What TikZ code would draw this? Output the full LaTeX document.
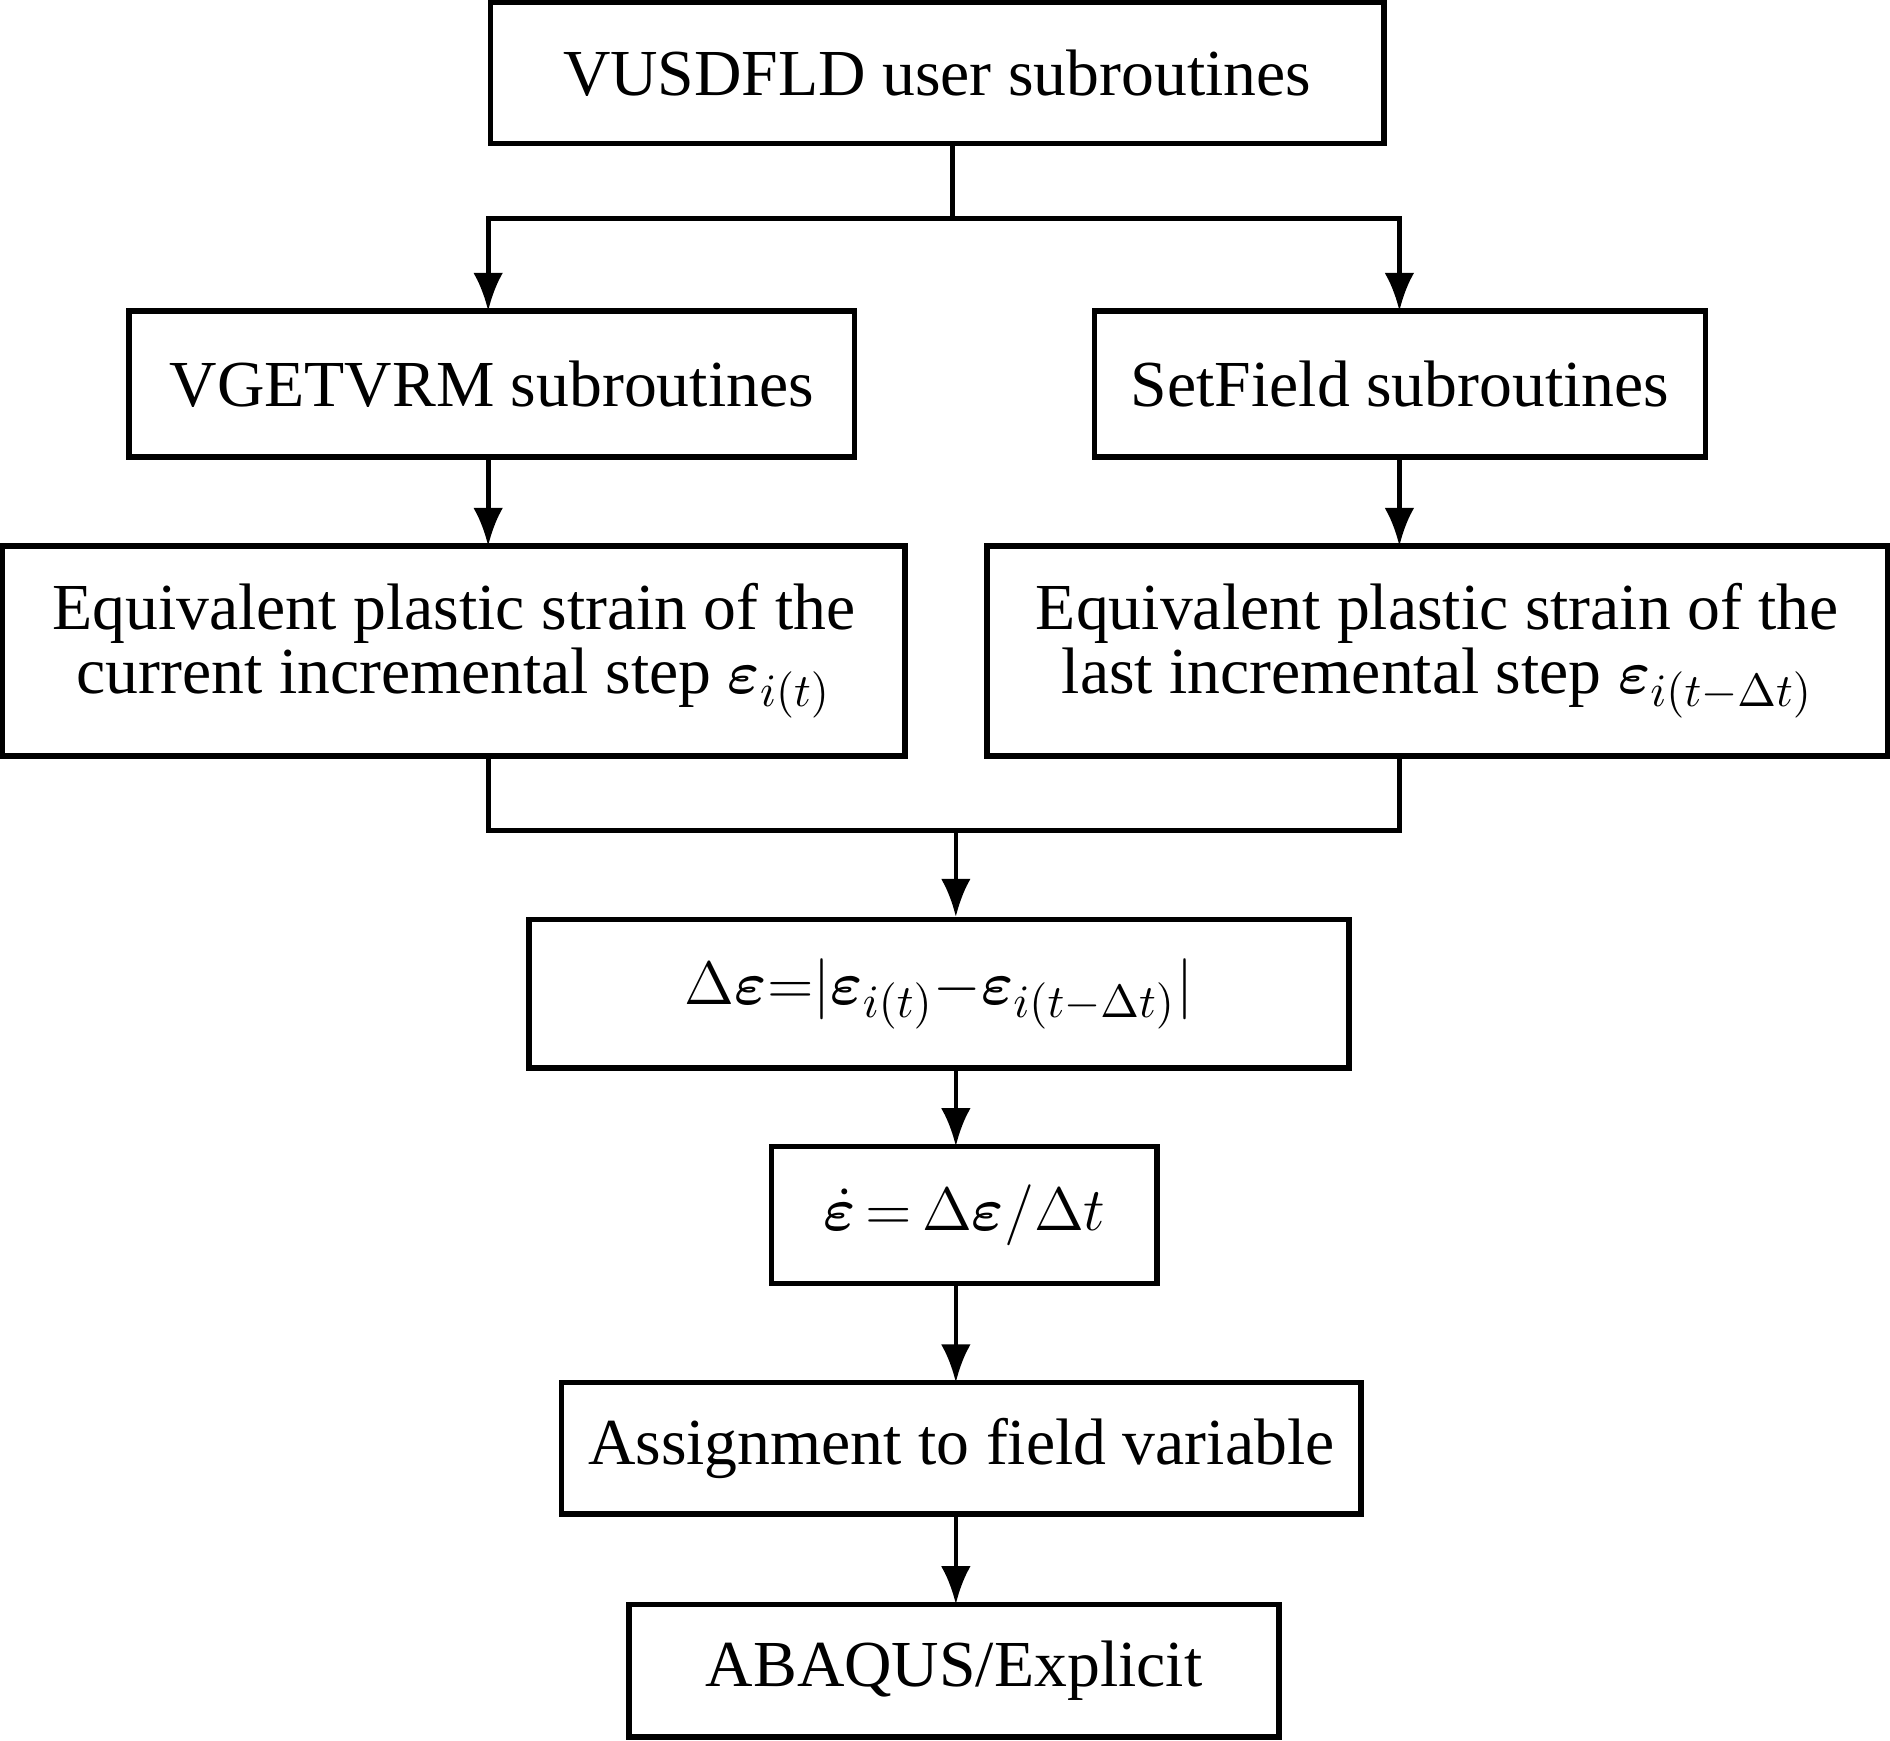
\documentclass[tikz,border=0pt]{standalone}
\usepackage{amsmath,bm}
\usepackage{fontspec}
\setmainfont{Liberation Serif}
\usetikzlibrary{arrows.meta}
\begin{document}
\begin{tikzpicture}[x=0.01cm,y=-0.01cm,
  box/.style={draw,line width=1.3pt,inner sep=0pt,align=center,font=\fontsize{15.5}{15}\selectfont},
  ln/.style={line width=1.1pt},
  ar/.style={ln,-{Latex[length=9pt,width=7pt]}}]
\useasboundingbox (0,0) rectangle (1568,1444);
\newcommand\bx[6]{\node[box,minimum width=#4*0.01cm,minimum height=#5*0.01cm] (#1) at (#2,#3) {#6};}
\bx{a}{777.5}{60.5}{741}{117}{VUSDFLD user subroutines}
\bx{b}{408}{318.5}{602}{121}{VGETVRM subroutines}
\bx{c}{1161.5}{318.5}{507}{121}{SetField subroutines}
\bx{d}{376.5}{540}{749}{174}{Equivalent plastic strain of the\\current incremental step $\bm{\varepsilon}_{i(t)}$}
\bx{e}{1192.5}{540}{747}{174}{Equivalent plastic strain of the\\last incremental step $\bm{\varepsilon}_{i(t-\Delta t)}$}
\bx{f}{779}{824.5}{680}{123}{$\Delta\bm{\varepsilon}{=}|\bm{\varepsilon}_{i(t)}{-}\bm{\varepsilon}_{i(t-\Delta t)}|$}
\bx{g}{800}{1008}{320}{114}{$\dot{\bm{\varepsilon}}\,{=}\,\Delta\bm{\varepsilon}/\Delta t$}
\bx{h}{797.5}{1201.5}{663}{109}{Assignment to field variable}
\bx{k}{791.5}{1386}{539}{110}{ABAQUS/Explicit}
\coordinate (j1) at (790,181);
\coordinate (j2) at (793,689);
\draw[ln] (a.south -| j1) -- (j1);
\draw[ar] (j1) -| (405,258);
\draw[ar] (j1) -| (1161,258);
\draw[ar] (405,379) -- (405,453);
\draw[ar] (1161,379) -- (1161,453);
\draw[ln] (405,627) |- (j2) -| (1161,627);
\draw[ar] (j2) -- (j2 |- f.north);
\draw[ar] (793,886) -- (793,951);
\draw[ar] (793,1065) -- (793,1147);
\draw[ar] (793,1256) -- (793,1331);
\end{tikzpicture}
\end{document}
